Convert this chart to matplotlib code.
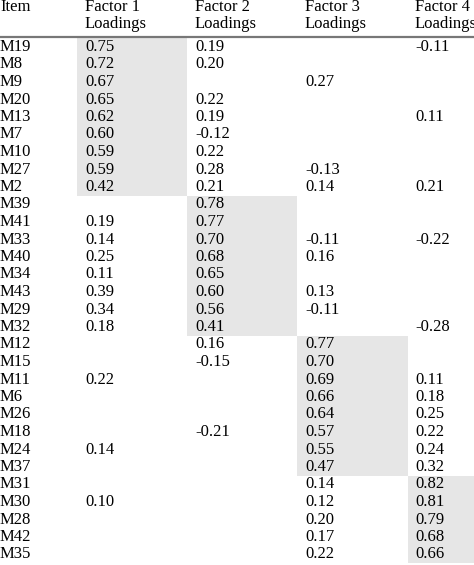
import matplotlib.pyplot as plt
from matplotlib.patches import Rectangle

items = ["M19", "M8", "M9", "M20", "M13", "M7", "M10", "M27", "M2",
         "M39", "M41", "M33", "M40", "M34", "M43", "M29", "M32",
         "M12", "M15", "M11", "M6", "M26", "M18", "M24", "M37",
         "M31", "M30", "M28", "M42", "M35"]
factor1 = ["0.75", "0.72", "0.67", "0.65", "0.62", "0.60", "0.59", "0.59", "0.42",
           "", "0.19", "0.14", "0.25", "0.11", "0.39", "0.34", "0.18",
           "", "", "0.22", "", "", "", "0.14", "",
           "", "0.10", "", "", ""]
factor2 = ["0.19", "0.20", "", "0.22", "0.19", "-0.12", "0.22", "0.28", "0.21",
           "0.78", "0.77", "0.70", "0.68", "0.65", "0.60", "0.56", "0.41",
           "0.16", "-0.15", "", "", "", "-0.21", "", "",
           "", "", "", "", ""]
factor3 = ["", "", "0.27", "", "", "", "", "-0.13", "0.14",
           "", "", "-0.11", "0.16", "", "0.13", "-0.11", "",
           "0.77", "0.70", "0.69", "0.66", "0.64", "0.57", "0.55", "0.47",
           "0.14", "0.12", "0.20", "0.17", "0.22"]
factor4 = ["-0.11", "", "", "", "0.11", "", "", "", "0.21",
           "", "", "-0.22", "", "", "", "", "-0.28",
           "", "", "0.11", "0.18", "0.25", "0.22", "0.24", "0.32",
           "0.82", "0.81", "0.79", "0.68", "0.66"]
headers = ["Item", "Factor 1\nLoadings", "Factor 2\nLoadings", "Factor 3\nLoadings", "Factor 4\nLoadings"]
# rows that load highest on each factor (start, end)
blocks = [(0, 8), (9, 16), (17, 24), (25, 29)]

plt.rcParams['font.family'] = ['Liberation Serif', 'DejaVu Serif']
fig = plt.figure(figsize=(4.74, 5.65), dpi=100)
ax = fig.add_axes([0, 0, 1, 1])
ax.set_xlim(0, 474)
step = 17.5
top = 47
ax.set_ylim((565 - top) / step, -top / step)  # row index, top down
ax.axis('off')

col_x = [0, 85, 195, 305, 415]
edges = [77, 187, 297, 408, 474]
for k, (a, b) in enumerate(blocks):
    ax.add_patch(Rectangle((edges[k], a - 0.5), edges[k + 1] - edges[k], b - a + 1,
                           color='#e6e6e6', lw=0, zorder=0))

for x, h in zip(col_x, headers):
    ax.text(x, -top / step - 0.05, h, fontsize=12, va='top', ha='left', linespacing=1.1)
ax.axhline((37 - top) / step, color='#777777', lw=1.6)

cols = [items, factor1, factor2, factor3, factor4]
for x, col in zip(col_x, cols):
    for i, v in enumerate(col):
        if v:
            ax.text(x, i, v, fontsize=12, va='center', ha='left')

fig.savefig('out.png', dpi=100)
